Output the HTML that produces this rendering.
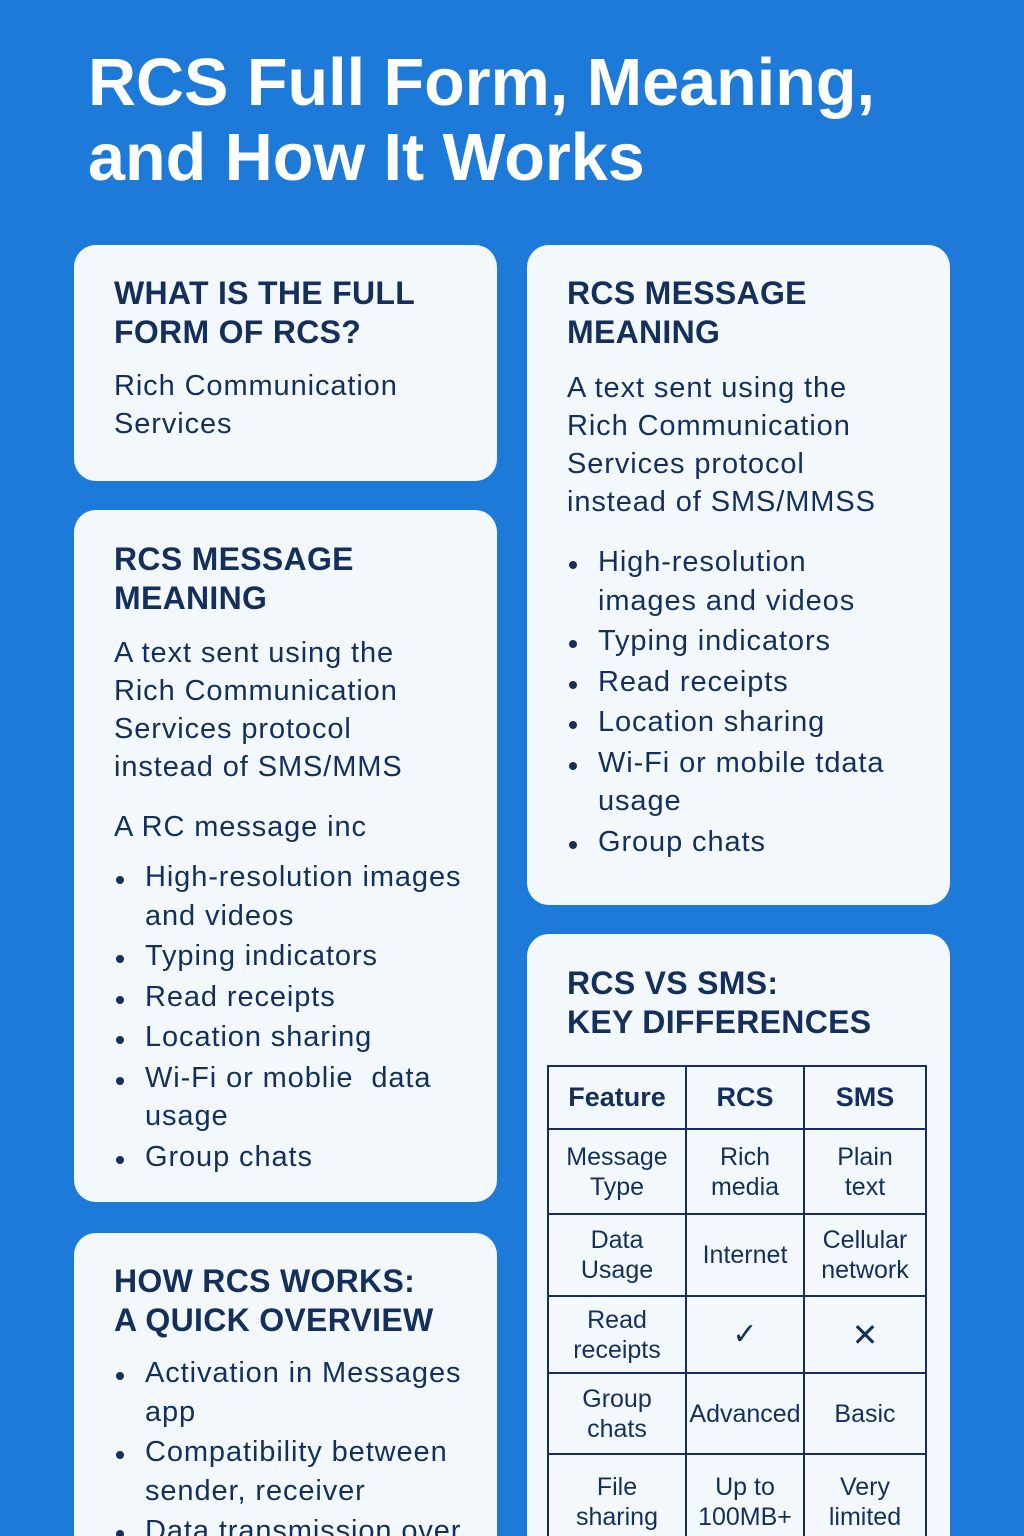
<!DOCTYPE html>
<html style="overflow:hidden;height:1536px"><head><meta charset="utf-8"><style>
body{margin:0;width:1024px;height:1536px;overflow:hidden;background:#1e7ad9;font-family:"Liberation Sans","DejaVu Sans",sans-serif}
#w{position:relative;width:1024px;height:1536px;overflow:hidden}
.t{position:absolute;left:88px;top:46px;color:#fff;font-weight:bold;font-size:66.5px;line-height:75px;letter-spacing:0px}
.c{position:absolute;background:#f3f8fd;border-radius:22px;color:#14305a;overflow:hidden}
.h{position:absolute;left:40px;font-weight:bold;font-size:32px;line-height:39px;white-space:nowrap;letter-spacing:0.3px}
.p{position:absolute;left:40px;font-size:29px;line-height:38px;white-space:nowrap;letter-spacing:0.9px}
ul{position:absolute;left:40px;margin:0;padding:0;list-style:none;font-size:29px;line-height:38.5px;letter-spacing:0.9px}
li{position:relative;padding-left:31px;margin-bottom:2px;white-space:nowrap}
li:before{content:"";position:absolute;left:2px;top:18px;width:8px;height:8px;border-radius:50%;background:#14305a}
table{position:absolute;left:20px;border-collapse:collapse;color:#14305a;table-layout:fixed}
td{border:2px solid #14305a;text-align:center;font-size:25px;line-height:30px;padding:0}
th{border:2px solid #14305a;font-size:27px;height:61px;padding:0}
</style></head><body><div id="w">
<div class="t">RCS Full Form, Meaning,<br>and How It Works</div>

<div class="c" style="left:74px;top:245px;width:423px;height:236px">
<div class="h" style="top:29px">WHAT IS THE FULL<br>FORM OF RCS?</div>
<div class="p" style="top:122px">Rich Communication<br>Services</div>
</div>

<div class="c" style="left:74px;top:510px;width:423px;height:692px">
<div class="h" style="top:30px">RCS MESSAGE<br>MEANING</div>
<div class="p" style="top:124px">A text sent using the<br>Rich Communication<br>Services protocol<br>instead of SMS/MMS</div>
<div class="p" style="top:298px">A RC message inc</div>
<ul style="top:348px"><li>High-resolution images<br>and videos</li><li>Typing indicators</li><li>Read receipts</li><li>Location sharing</li><li>Wi-Fi or moblie&nbsp; data<br>usage</li><li>Group chats</li></ul>
</div>

<div class="c" style="left:74px;top:1233px;width:423px;height:330px">
<div class="h" style="top:29px">HOW RCS WORKS:<br>A QUICK OVERVIEW</div>
<ul style="top:121px"><li>Activation in Messages<br>app</li><li>Compatibility between<br>sender, receiver</li><li>Data transmission over</li></ul>
</div>

<div class="c" style="left:527px;top:245px;width:423px;height:660px">
<div class="h" style="top:29px">RCS MESSAGE<br>MEANING</div>
<div class="p" style="top:124px">A text sent using the<br>Rich Communication<br>Services protocol<br>instead of SMS/MMSS</div>
<ul style="top:298px"><li>High-resolution<br>images and videos</li><li>Typing indicators</li><li>Read receipts</li><li>Location sharing</li><li>Wi-Fi or mobile tdata<br>usage</li><li>Group chats</li></ul>
</div>

<div class="c" style="left:527px;top:934px;width:423px;height:630px">
<div class="h" style="top:30px">RCS VS SMS:<br>KEY DIFFERENCES</div>
<table style="top:131px;width:378px">
<colgroup><col style="width:138px"><col style="width:118px"><col style="width:122px"></colgroup>
<tr><th>Feature</th><th>RCS</th><th>SMS</th></tr>
<tr style="height:85px"><td>Message<br>Type</td><td>Rich<br>media</td><td>Plain<br>text</td></tr>
<tr style="height:82px"><td>Data<br>Usage</td><td>Internet</td><td>Cellular<br>network</td></tr>
<tr style="height:77px"><td>Read<br>receipts</td><td style="font-size:30px">✓</td><td style="font-size:32px">✕</td></tr>
<tr style="height:81px"><td>Group<br>chats</td><td>Advanced</td><td>Basic</td></tr>
<tr style="height:95px"><td>File<br>sharing</td><td>Up to<br>100MB+</td><td>Very<br>limited</td></tr>
</table>
</div>
</div></body></html>
